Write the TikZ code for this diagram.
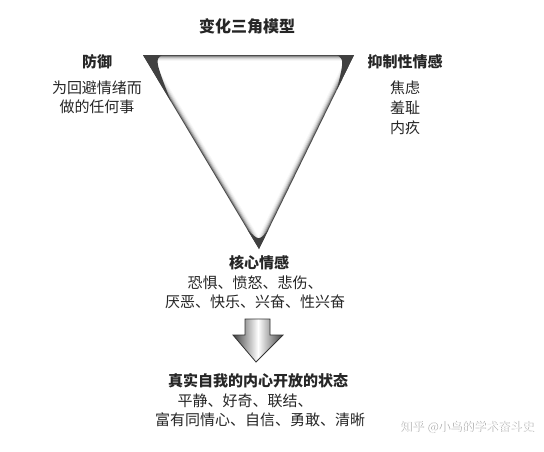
\documentclass[tikz,border=0pt]{standalone}
\usepackage{fontspec}
\setmainfont{Noto Sans CJK SC}
\usetikzlibrary{calc}
\begin{document}
\begin{tikzpicture}[x=1pt,y=-1pt,
  lbl/.style={font=\fontsize{15}{18}\selectfont, text=black!85, inner sep=0pt, align=center},
  hd/.style={font=\fontsize{15}{18}\selectfont\bfseries, text=black!85, inner sep=0pt},
  wm/.style={font=\fontsize{12}{14}\selectfont, text=white, inner sep=0pt},
  corner/.style={fill=black!75}]
\useasboundingbox[fill=white] (0,0) rectangle (544,451);
% triangle
\coordinate (tl) at (143,55);
\coordinate (tr) at (354,55);
\coordinate (ap) at (259,249);
\coordinate (ic) at (253.5,117.7);
\foreach \d/\c in {0/70,1/45,2/28,3/16,4/8,5/3,6/0}{
  \pgfmathsetmacro{\s}{\d/62.7}
  \fill[black!\c] ($(tl)!\s!(ic)$) -- ($(tr)!\s!(ic)$) -- ($(ap)!\s!(ic)$) -- cycle;
}
% dark corners
\fill[corner] (tl) -- ($(tl)!0.09!(tr)$) .. controls ($(tl)+(12,5)$) .. ($(tl)!0.24!(ap)$) -- cycle;
\fill[corner] (tr) -- ($(tr)!0.08!(tl)$) .. controls ($(tr)+(-10,5)$) .. ($(tr)!0.18!(ap)$) -- cycle;
\fill[corner] (ap) -- ($(ap)!0.1!(tl)$) .. controls ($(ap)+(0,-8)$) .. ($(ap)!0.1!(tr)$) -- cycle;
% texts
\node[hd, font=\fontsize{16}{18}\selectfont\bfseries] (title) at (247,26) {变化三角模型};
\node[hd] (def) at (97,62) {防御};
\node[lbl] (def1) at (97,88) {为回避情绪而};
\node[lbl] (def2) at (97,107) {做的任何事};
\node[hd] (inh) at (405,62) {抑制性情感};
\node[lbl] (inh1) at (405,88) {焦虑};
\node[lbl] (inh2) at (405,108) {羞耻};
\node[lbl] (inh3) at (405,128) {内疚};
\node[hd] (core) at (259,263) {核心情感};
\node[lbl] (core1) at (255,283) {恐惧、愤怒、悲伤、};
\node[lbl] (core2) at (255,302) {厌恶、快乐、兴奋、性兴奋};
% block arrow
\path[left color=black!75, right color=black!75, middle color=white, draw=black!80, line width=0.8pt, line join=miter]
  (245,319) -- (270,319) -- (270,335) -- (283,335) -- (256,362) -- (233,335) -- (245,335) -- cycle;
\node[hd] (self) at (258,381) {真实自我的内心开放的状态};
\node[lbl] (self1) at (245,401) {平静、好奇、联结、};
\node[lbl] (self2) at (260,420) {富有同情心、自信、勇敢、清晰};
% watermark
\node[wm, text=black!35, anchor=west] (wms) at (400.7,427.7) {知乎 @小鸟的学术奋斗史};
\node[wm, anchor=west] (wm) at (400,427) {知乎 @小鸟的学术奋斗史};
\end{tikzpicture}
\end{document}
